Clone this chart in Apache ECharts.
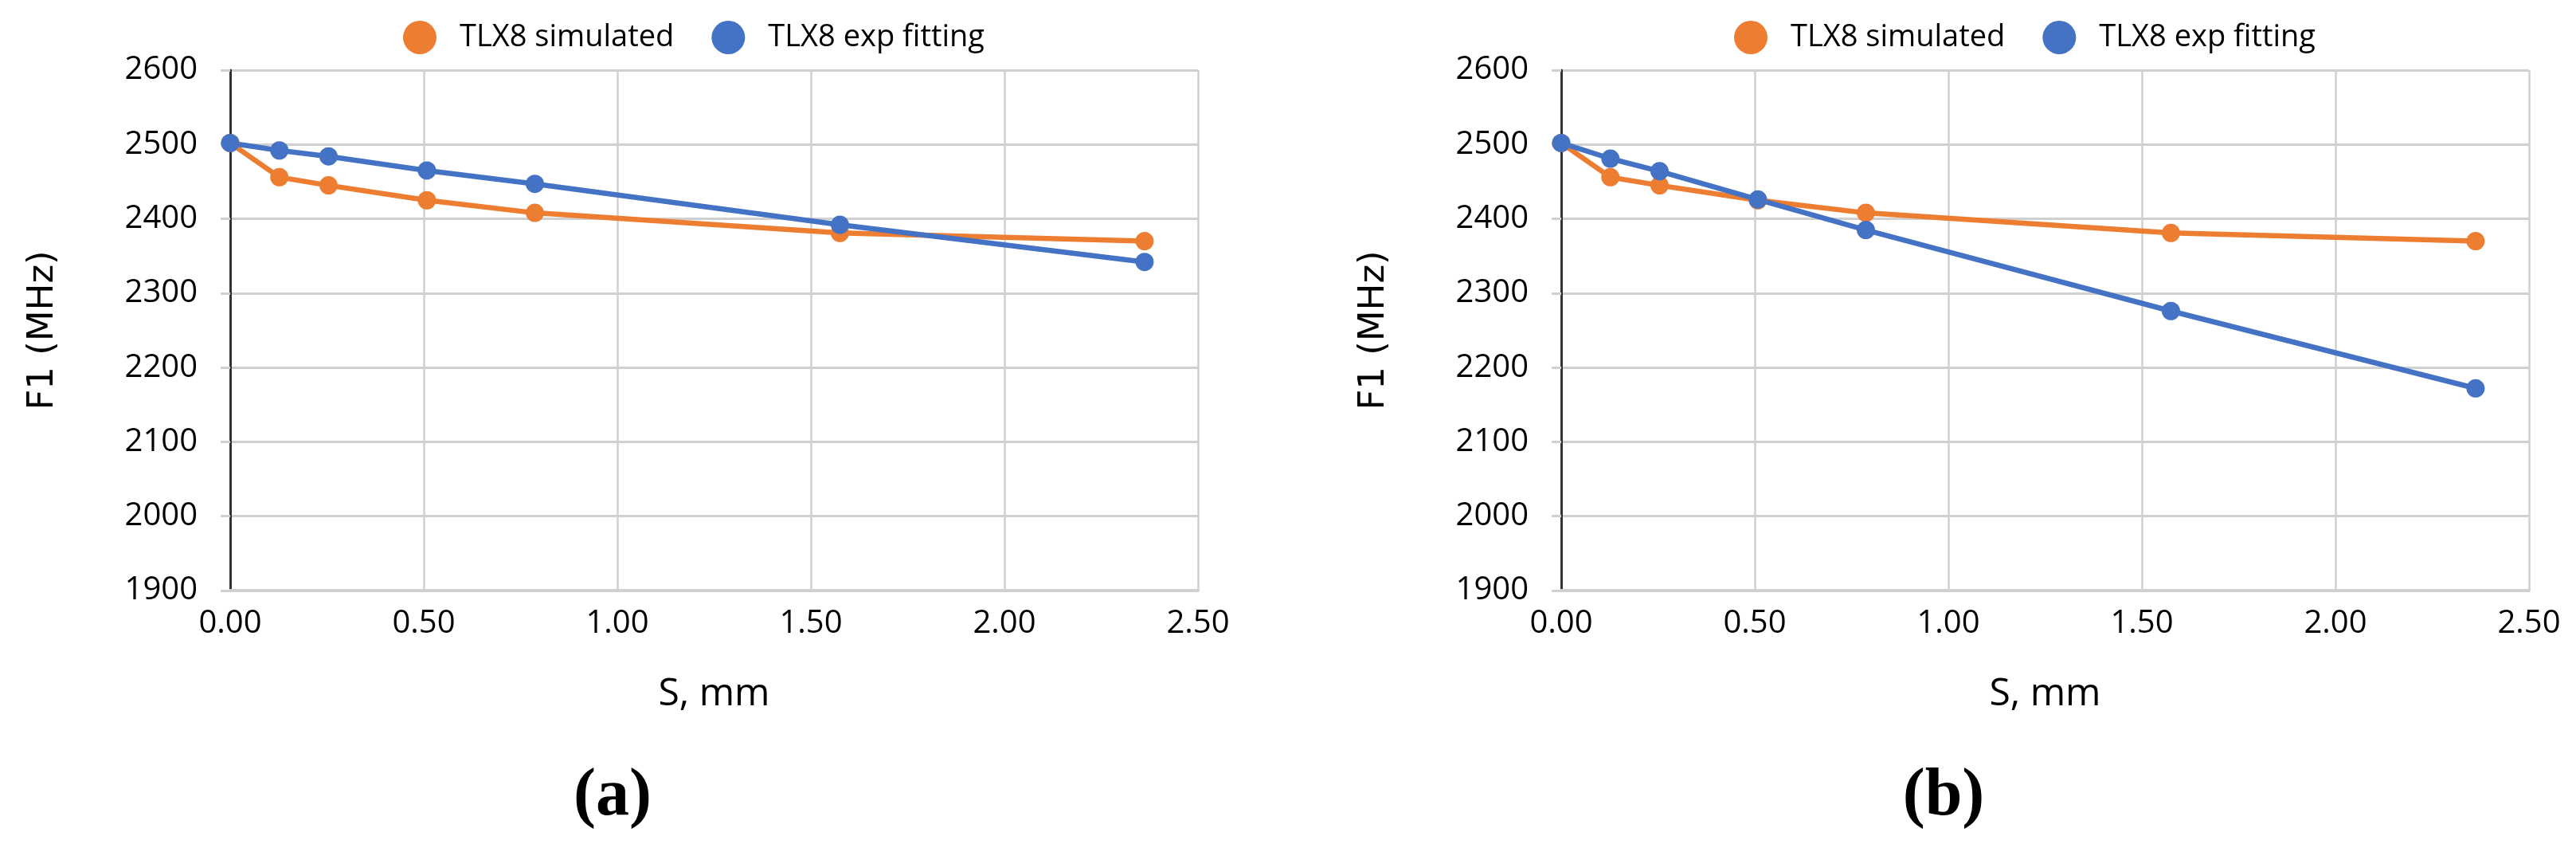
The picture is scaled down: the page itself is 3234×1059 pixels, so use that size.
<!DOCTYPE html>
<html>
<head>
<meta charset="utf-8">
<script src="https://cdn.jsdelivr.net/npm/echarts@6/dist/echarts.min.js"></script>
<style>
html,body{margin:0;padding:0;background:#fff;}
#c{width:3234px;height:1059px;}
</style>
</head>
<body>
<div id="c"></div>
<script>
// ---- data ----
const sValues   = [0, 0.127, 0.254, 0.508, 0.787, 1.575, 2.362];
const simulated = [2502, 2456, 2445, 2425, 2408, 2381, 2370];
const expFitA   = [2502, 2492, 2484, 2465, 2447, 2392, 2342];
const expFitB   = [2502, 2481, 2464, 2426, 2385, 2276, 2172];
const seriesNames = ['TLX8 simulated', 'TLX8 exp fitting'];
const panelLabels = ['(a)', '(b)'];
const xTitle = 'S, mm';
const yTitle = 'F1 (MHz)';

const ORANGE = '#ED7D31', BLUE = '#4472C4', GRID = '#D0D0D0';
const pairs = (ys) => sValues.map((x, i) => [x, ys[i]]);

const gridLefts = [289, 1960];
const legendLefts = [501, 2172];
const labelCenters = [769, 2440];

function xAxisFor(i) {
  return {
    gridIndex: i, type: 'value', min: 0, max: 2.5, interval: 0.5,
    name: xTitle, nameLocation: 'middle', nameGap: 106,
    nameTextStyle: {fontFamily: 'Open Sans', fontSize: 48, color: '#000'},
    axisLine: {show: true, lineStyle: {color: GRID, width: 4}},
    axisTick: {show: false},
    axisLabel: {margin: 22, fontFamily: 'Open Sans', fontSize: 40, color: '#000',
      formatter: v => v.toFixed(2)},
    splitLine: {show: true, lineStyle: {color: GRID, width: 2.5}}
  };
}
function yAxisFor(i) {
  return {
    gridIndex: i, type: 'value', min: 1900, max: 2600, interval: 100,
    name: yTitle, nameLocation: 'middle', nameGap: 212, nameRotate: 90,
    nameTextStyle: {fontFamily: 'DejaVu Sans', fontSize: 45, color: '#000'},
    axisLine: {show: true, onZero: false, lineStyle: {color: '#333', width: 3}},
    axisTick: {show: true, length: 12, lineStyle: {color: GRID, width: 3}},
    axisLabel: {margin: 41, fontFamily: 'Open Sans', fontSize: 40, color: '#000',
      formatter: v => String(v)},
    splitLine: {show: true, lineStyle: {color: GRID, width: 3}}
  };
}
function lineSeries(i, name, ys, color) {
  return {
    type: 'line', name: name, xAxisIndex: i, yAxisIndex: i,
    data: pairs(ys), symbol: 'circle', symbolSize: 23,
    lineStyle: {color: color, width: 6.5}, itemStyle: {color: color},
    animation: false, z: 3
  };
}

const chart = echarts.init(document.getElementById('c'), null, {renderer: 'canvas'});
chart.setOption({
  backgroundColor: '#fff',
  animation: false,
  legend: [0, 1].map(i => ({
    left: legendLefts[i], top: 21, orient: 'horizontal',
    itemWidth: 42, itemHeight: 42, itemGap: 47, icon: 'circle',
    data: seriesNames,
    textStyle: {fontFamily: 'Open Sans', fontSize: 38, color: '#000', padding: [0, 0, 0, 24]}
  })),
  grid: gridLefts.map(l => ({left: l, top: 88, width: 1215, height: 653})),
  xAxis: [xAxisFor(0), xAxisFor(1)],
  yAxis: [yAxisFor(0), yAxisFor(1)],
  series: [
    lineSeries(0, seriesNames[0], simulated, ORANGE),
    lineSeries(0, seriesNames[1], expFitA, BLUE),
    lineSeries(1, seriesNames[0], simulated, ORANGE),
    lineSeries(1, seriesNames[1], expFitB, BLUE)
  ],
  graphic: panelLabels.map((t, i) => ({
    type: 'text', x: labelCenters[i], y: 1000,
    style: {text: t, fontFamily: 'Liberation Serif', fontWeight: 'bold', fontSize: 84,
      fill: '#000', align: 'center', verticalAlign: 'middle'}
  }))
});
</script>
</body>
</html>
